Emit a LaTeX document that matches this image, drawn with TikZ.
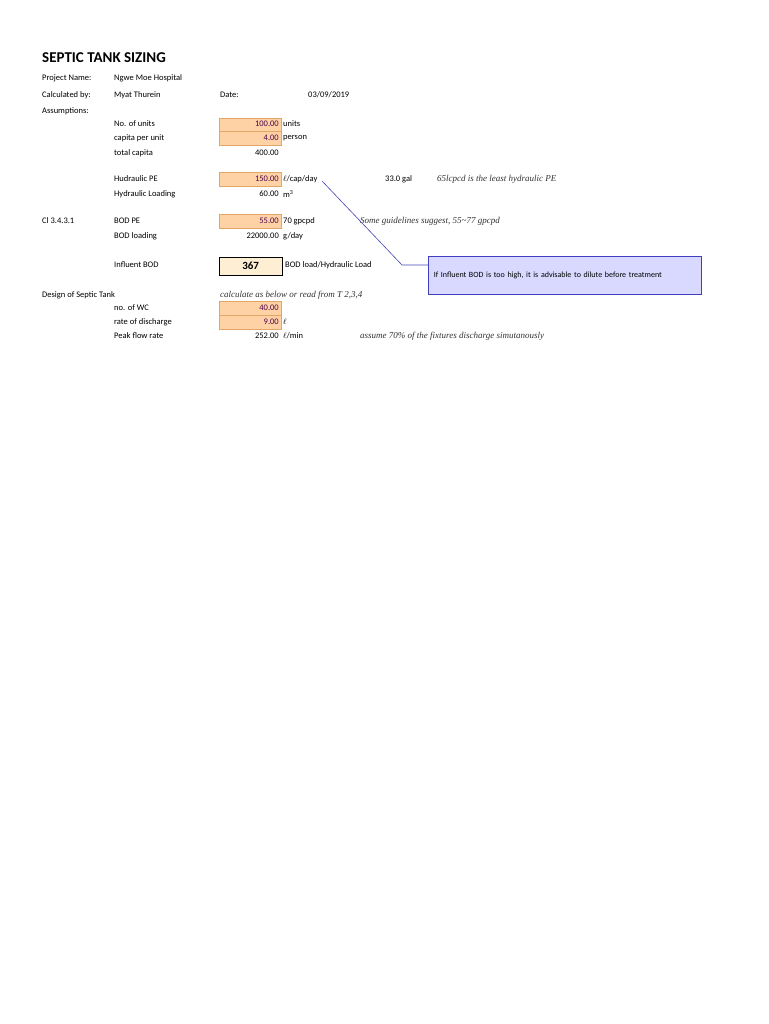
\documentclass[tikz,border=0pt]{standalone}
\usepackage{fontspec}
\setmainfont{Carlito}
\newfontfamily\notefont{Liberation Serif}
\begin{document}
\begin{tikzpicture}[x=1pt,y=-1pt,
  lbl/.style={anchor=west,inner sep=0,font=\fontsize{8.5}{10}\selectfont},
  val/.style={anchor=east,inner sep=0,font=\fontsize{8.5}{10}\selectfont},
  inval/.style={val,text=black!60!blue!70!red},
  note/.style={anchor=west,inner sep=0,font=\notefont\itshape\fontsize{9}{10}\selectfont,text=black!80},
  inbox/.style={draw=brown!60!orange!70,fill=orange!35!white,line width=0.5pt}]
\useasboundingbox (0,0) rectangle (768,1024);
\fill[white] (0,0) rectangle (768,1024);
\node[anchor=west,inner sep=0,font=\bfseries\fontsize{15}{17}\selectfont] (title) at (42,58) {SEPTIC TANK SIZING};
\node[lbl] (pn) at (42,78) {Project Name:};
\node[lbl] (pnv) at (114,78) {Ngwe Moe Hospital};
\node[lbl] (cb) at (42,95) {Calculated by:};
\node[lbl] (cbv) at (114,95) {Myat Thurein};
\node[lbl] (dt) at (220,95) {Date:};
\node[lbl] (dtv) at (308,95) {03/09/2019};
\node[lbl] (as) at (42,111) {Assumptions:};
% input boxes
\draw[inbox] (219,118) rectangle (281,131);
\draw[inbox] (219,131) rectangle (281,145);
\draw[inbox] (219,172) rectangle (281,186);
\draw[inbox] (219,214) rectangle (281,228);
\draw[inbox] (219,301) rectangle (281,315);
\draw[inbox] (219,315) rectangle (281,329);
\node[lbl] (a1) at (114,124) {No. of units};
\node[inval] (v1) at (279,124) {100.00};
\node[lbl] (u1) at (283,124) {units};
\node[lbl] (a2) at (114,138) {capita per unit};
\node[inval] (v2) at (279,138) {4.00};
\node[lbl] (u2) at (283,138) {person};
\node[lbl] (a3) at (114,153) {total capita};
\node[val] (v3) at (279,153) {400.00};
\node[lbl] (a4) at (114,179) {Hudraulic PE};
\node[inval] (v4) at (279,179) {150.00};
\node[lbl] (u4) at (283,179) {$\ell$/cap/day};
\node[lbl] (g4) at (385,179) {33.0 gal};
\node[note] (n4) at (437,179) {65lcpcd is the least hydraulic PE};
\node[lbl] (a5) at (114,194) {Hydraulic Loading};
\node[val] (v5) at (279,194) {60.00};
\node[lbl] (u5) at (283,194) {m\textsuperscript{3}};
\node[lbl] (cl) at (42,221) {Cl 3.4.3.1};
\node[lbl] (a6) at (114,221) {BOD PE};
\node[inval] (v6) at (279,221) {55.00};
\node[lbl] (u6) at (283,221) {70 gpcpd};
\node[note] (n6) at (360,221) {Some guidelines suggest, 55\textasciitilde77 gpcpd};
\node[lbl] (a7) at (114,236) {BOD loading};
\node[val] (v7) at (279,236) {22000.00};
\node[lbl] (u7) at (283,236) {g/day};
\node[lbl] (a8) at (114,265) {Influent BOD};
\node[draw=black,line width=1.3pt,fill=yellow!20!orange!15!white,minimum width=63pt,minimum height=18pt,inner sep=0,font=\bfseries\fontsize{11}{12}\selectfont,anchor=north west] (bod) at (218.5,256.5) {367};
\node[lbl] (u8) at (285,265) {BOD load/Hydraulic Load};
\node[lbl] (ds) at (42,295) {Design of Septic Tank};
\node[note] (n9) at (220,295) {calculate as below or read from T 2,3,4};
\node[lbl] (a9) at (114,308) {no. of WC};
\node[inval] (v9) at (279,308) {40.00};
\node[lbl] (a10) at (114,322) {rate of discharge};
\node[inval] (v10) at (279,322) {9.00};
\node[lbl] (u10) at (283,322) {$\ell$};
\node[lbl] (a11) at (114,336) {Peak flow rate};
\node[val] (v11) at (279,336) {252.00};
\node[lbl] (u11) at (283,336) {$\ell$/min};
\node[note] (n11) at (360,336) {assume 70\% of the fixtures discharge simutanously};
% callout
\node[draw=blue!50!gray,fill=blue!15!white,line width=0.6pt,anchor=north west,minimum width=273pt,minimum height=38pt,text width=262pt,align=left,inner sep=5pt,font=\fontsize{8}{11}\selectfont] (call) at (428,256) {If Influent BOD is too high, it is advisable to dilute before treatment};
\coordinate (tip) at (322,181);
\coordinate (knee) at (402,265);
\draw[blue!45!gray,line width=0.6pt] (tip) -- (knee) -- (call.west |- knee);
\end{tikzpicture}
\end{document}
